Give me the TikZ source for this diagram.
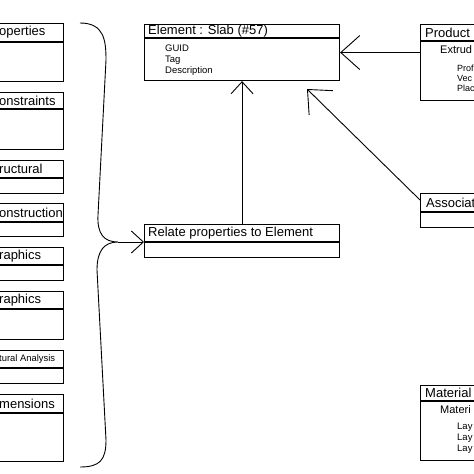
\documentclass[tikz,border=0pt]{standalone}
\usepackage{fontspec}
\setmainfont{Liberation Sans}
\usepackage{tikz}
\usetikzlibrary{positioning}
\usetikzlibrary{arrows.meta,calc}
\tikzstyle{classbox}=[rectangle,draw=black,line width=1.1pt,inner sep=0pt,anchor=north west]
\tikzstyle{sepline}=[draw,line width=1.1pt]
\tikzstyle{classtitle}=[anchor=west,inner sep=0pt,font=\fontsize{13}{15}\selectfont]
\tikzstyle{subtitle}=[anchor=west,inner sep=0pt,font=\fontsize{11}{13}\selectfont]
\tikzstyle{attr}=[anchor=west,inner sep=0pt,font=\fontsize{9.5}{11}\selectfont]
\tikzstyle{brace}=[draw,line width=0.9pt]
\tikzstyle{edge} = [draw,line width=0.9pt,-{Straight Barb[length=12pt,width=22pt]}]
\tikzstyle{bigedge} = [draw,line width=0.9pt,-{Straight Barb[length=19pt,width=34pt]}]

\begin{document}
\begin{tikzpicture}[x=1pt,y=-1pt]
  \useasboundingbox (0,0) rectangle (474,474);
  \clip (0,0) rectangle (474,474);

  % property sets on the left, cut by the page edge
  \foreach \t/\s/\b/\name/\label/\fs in {23/42/81/ps1/operties/13, 92/109/149/ps2/onstraints/13,
          160/178/193/ps3/ructural/13, 203/222/236/ps4/onstruction/13, 247/265/280/ps5/raphics/13,
          291/309/339/ps6/raphics/13, 350/368/383/ps7/tural Analysis/9.4, 394/413/461/ps8/mensions/13}
  {
    \node[classbox, minimum width=83pt, minimum height={(\b-\t)*1pt}] (\name) at (-20,\t) {};
    \path[sepline] (\name.west |- 0,\s) -- (\name.east |- 0,\s);
    \node[classtitle, font=\fontsize{\fs}{\fs}\selectfont] at (-1,{(\t+\s)/2}) {\label};
  }

  % element
  \node[classbox, minimum width=195pt, minimum height=56pt] (elem) at (144,24) {};
  \path[sepline] (elem.west |- 0,38) -- (elem.east |- 0,38);
  \node[classtitle] at (148,31.5) {Element : Slab (\#57)};
  \foreach \y/\label in {48/GUID, 60/Tag, 71/Description}
          \node[attr] at (165,\y) {\label};

  \node[classbox, minimum width=195pt, minimum height=33pt] (relate) at (144,224) {};
  \path[sepline] (relate.west |- 0,242) -- (relate.east |- 0,242);
  \node[classtitle] at (148,233) {Relate properties to Element};

  % right side, cut by the page edge
  \node[classbox, minimum width=80pt, minimum height=76pt] (prod) at (420,24) {};
  \path[sepline] (prod.west |- 0,41) -- (prod.east |- 0,41);
  \node[classtitle] at (425,32.5) {Product};
  \node[subtitle] at (440,50) {Extrud};
  \foreach \y/\label in {68/Prof, 78/Vec, 88/Plac}
          \node[attr, font=\fontsize{9}{10}\selectfont] at (457,\y) {\label};

  \node[classbox, minimum width=80pt, minimum height=34pt] (assoc) at (420,193) {};
  \path[sepline] (assoc.west |- 0,212) -- (assoc.east |- 0,212);
  \node[classtitle] at (426,202.5) {Associat};

  \node[classbox, minimum width=80pt, minimum height=75pt] (mat) at (420,385) {};
  \path[sepline] (mat.west |- 0,401) -- (mat.east |- 0,401);
  \node[classtitle] at (425,393) {Material};
  \node[subtitle] at (440,410) {Materi};
  \foreach \y/\label in {427/Lay, 438/Lay, 449/Lay}
          \node[attr] at (457,\y) {\label};

  % brace and connectors
  \coordinate (tip) at (118,242);
  \coordinate (assocend) at (307,89);
  \path[brace] (80,23) .. controls (104,23) and (106,40) .. (106,60) -- (98,215)
        .. controls (97,234) and (104,242) .. (tip)
        .. controls (104,242) and (97,251) .. (97,270) -- (106,440)
        .. controls (106,460) and (100,467) .. (80,467);

  \path[edge] (tip) -- (tip -| relate.west);
  \path[edge] (relate.north) -- (elem.south);
  \path[bigedge] (elem.east -| prod.west) -- (elem.east);
  \path[bigedge] ([yshift=-7pt]assoc.north west) -- (assocend);

\end{tikzpicture}
\end{document}
